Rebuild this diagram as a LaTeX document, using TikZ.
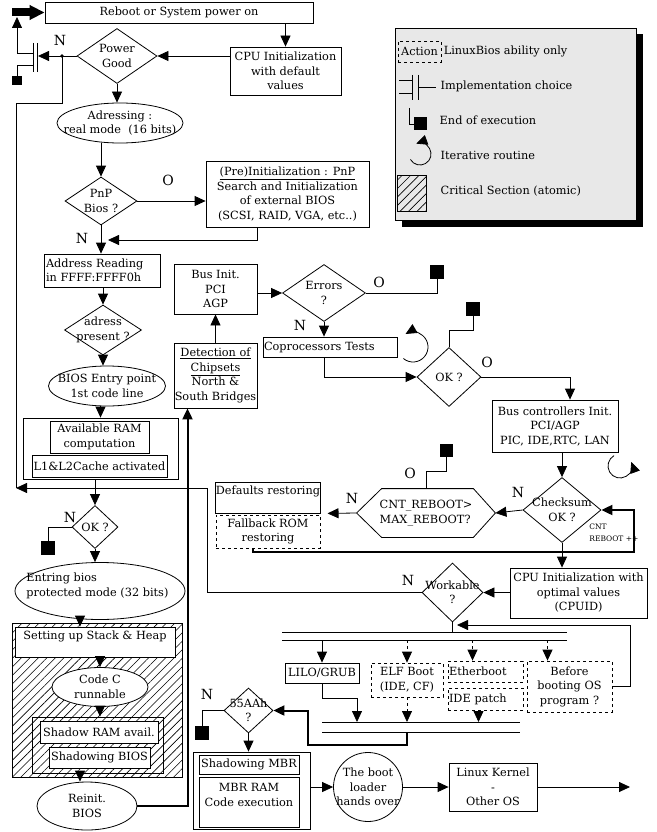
\documentclass[tikz,border=0pt]{standalone}
\usepackage{fontspec}
\setmainfont{DejaVu Serif}
\usetikzlibrary{arrows.meta,shapes.geometric,patterns.meta,calc}
\def\looparc[#1](#2)(#3:#4:#5){\draw[#1] ($(#2)+({#5*cos(#3)},{#5*sin(#3)})$) arc (#3:#4:#5);}
\newcommand{\mk}[1]{\makebox[0pt]{#1}}
\tikzset{
  box/.style={draw, inner sep=0.5pt, align=center},
  dbox/.style={box, dashed},
  dia/.style={draw, diamond, inner sep=0pt, align=center},
  ell/.style={draw, ellipse, inner sep=0pt, align=center},
  sz/.style 2 args={minimum width=#1, minimum height=#2},
  endsq/.style={fill=black, minimum size=14, inner sep=0pt},
  arr/.style={-{Triangle[length=11pt,width=10pt]}},
  tharr/.style={arr, line width=2pt},
  lab/.style={font=\fontsize{14}{14}\selectfont},
  cntlab/.style={font=\fontsize{7.5}{9}\selectfont, inner sep=0pt, anchor=west},
  hatched/.style={pattern={Lines[angle=45,distance=6pt,line width=0.6pt]}},
}
\begin{document}
\begin{tikzpicture}[x=1pt,y=-1pt,line width=0.8pt,font=\fontsize{11.3}{14.5}\selectfont]
\useasboundingbox (0,0) rectangle (656,832);
%%%%% START %%%%%
\coordinate (start) at (12,12.5);
\node[box,sz={268}{21}] (reboot) at (179,12.5) {Reboot or System power on};
\node[box,sz={111}{48}] (cpuone) at (285.5,71) {CPU Initialization\\with default\\values};
\node[dia,sz={80}{55}] (pgood) at (117,56) {\mk{Power}\\\mk{Good}};
\node[ell,sz={126}{40}] (real) at (120,123) {\mk{Adressing :}\\\mk{real mode\ \ (16 bits)}};
\node[dia,sz={72}{48}] (pnp) at (101,201) {\mk{PnP}\\\mk{Bios ?}};
\node[box,sz={163}{66}] (preinit) at (287.5,194) {\underline{(Pre)Initialization : PnP}\\Search and Initialization\\of external BIOS\\(SCSI, RAID, VGA, etc..)};
\coordinate (pnpin) at (108,240);
\node[box,sz={116}{33},text width=112,align=left] (addr) at (102,270.5) {Address Reading\\in FFFF:FFFF0h};
\node[dia,sz={77}{50}] (adr) at (103,330) {\mk{adress}\\\mk{present ?}};
\node[ell,sz={117}{40}] (entry) at (107,386) {\mk{BIOS Entry point}\\\mk{1st code line}};
\node[box,sz={155}{61}] (ram) at (100.5,448.5) {};
\node[box,sz={99}{32}] (ramc) at (99.5,437) {Available RAM\\computation};
\node[box,sz={135}{22}] (cache) at (99.5,466) {L1\&L2Cache activated};
\node[dia,sz={46}{43}] (okone) at (95,527) {\mk{OK ?}};
\node[endsq] (endone) at (48,548) {};
\node[ell,sz={170}{57}] (pmode) at (100,591) {};
\node[align=left,anchor=west,inner sep=0pt] (pmtxt) at (26,586) {Entring bios\\protected mode (32 bits)};
% critical section
\node[draw,sz={170}{154},hatched] (hatch) at (97,700) {};
\node[box,sz={160}{30},fill=white] (stack) at (95,642) {Setting up Stack \& Heap\\~};
\node[ell,sz={96}{39},fill=white] (codec) at (100,687) {\mk{Code C}\\\mk{runnable}};
\node[box,sz={131}{56}] (shadow) at (97.5,745) {};
\node[box,sz={118}{22},fill=white] (shram) at (99,732) {Shadow RAM avail.};
\node[box,sz={101}{21},fill=white] (shbios) at (99.5,757.5) {Shadowing BIOS};
\node[ell,sz={100}{48}] (reinit) at (87,806) {\mk{Reinit.}\\\mk{BIOS}};
% middle
\node[box,sz={83}{65}] (detect) at (215.5,375.5) {\underline{Detection of}\\\underline{Chipsets}\\North \&\\South Bridges};
\node[box,sz={83}{50}] (businit) at (215.5,289) {Bus Init.\\PCI\\AGP};
\node[dia,sz={83}{57}] (errors) at (324,293) {\mk{Errors}\\\mk{?}};
\node[endsq] (enderr) at (437,272) {};
\node[box,sz={134}{20},text width=132,align=left] (copro) at (330,347) {Coprocessors Tests};
\node[dia,sz={64}{59}] (oktwo) at (449,377) {\mk{OK ?}};
\node[endsq] (endok) at (473,309) {};
\node[box,sz={126}{52}] (busctl) at (555,426) {Bus controllers Init.\\PCI/AGP\\PIC, IDE,RTC, LAN};
\node[dia,sz={78}{65}] (chk) at (562,510) {\mk{Checksum}\\\mk{OK ?}};
\node[sz={138}{48},align=left] (cnt) at (426,513) {CNT\_REBOOT>\\MAX\_REBOOT?};
\draw ([xshift=25]cnt.north west) -- ([xshift=-22]cnt.north east) -- (cnt.east)
  -- ([xshift=-22]cnt.south east) -- ([xshift=25]cnt.south west) -- (cnt.west) -- cycle;
\node[endsq,minimum size=13] (endcnt) at (446,450) {};
\node[box,sz={104}{31},inner sep=0pt] (defaults) at (268,497.5) {Defaults restoring\\~};
\node[dbox,sz={104}{33}] (fallback) at (268,531.5) {Fallback ROM\\restoring};
\coordinate (cntc) at (634,552);
\node[box,sz={137}{50}] (cputwo) at (578.5,593) {CPU Initialization with\\optimal values\\(CPUID)};
\node[dia,sz={61}{59}] (work) at (452.5,592.5) {\mk{Workable}\\\mk{?}};
% boot loaders
\coordinate (busa) at (282,632);
\coordinate (busb) at (282,640);
\coordinate (busc) at (322,722);
\coordinate (busd) at (322,732);
\coordinate (workin) at (457,625);
\node[box,sz={74}{20}] (lilo) at (322,673) {LILO/GRUB};
\node[dbox,sz={72}{34}] (elf) at (407,680) {ELF Boot\\(IDE, CF)};
\node[dbox,sz={75}{21},text width=73,align=left] (ether) at (485.5,671.5) {Etherboot};
\node[dbox,sz={75}{22},text width=73,align=left] (idep) at (485.5,699) {IDE patch};
\node[dbox,sz={85}{51}] (before) at (569.5,686.5) {Before\\booting OS\\program ?};
\node[dia,sz={49}{45}] (aa) at (248.5,710.5) {\mk{55AAh}\\\mk{?}};
\node[endsq] (endaa) at (202,733) {};
\coordinate (aaturn) at (308,745);
\node[box,sz={117}{77}] (mbr) at (251.5,790.5) {};
\node[box,sz={100}{19}] (shmbr) at (249,764.5) {Shadowing MBR};
\node[box,sz={100}{50}] (mbrram) at (249,802) {MBR RAM\\Code execution\\~};
\node[draw,circle,minimum size=69,inner sep=0pt,align=center] (bootl) at (368,787) {\mk{The boot}\\\mk{loader}\\\mk{hands over}};
\node[box,sz={88}{48}] (linux) at (493,787) {Linux Kernel\\-\\Other OS};
\coordinate (osend) at (630,787);

%%%%% connectors %%%%%
\draw[-{Triangle[length=15pt,width=14pt]},line width=8pt] (start) -- (reboot.west);
\draw[arr] (reboot.south -| cpuone) -- (cpuone.north);
\draw[arr] (cpuone.west |- pgood.east) -- (pgood.east);
% implementation choice after Power Good
\coordinate (impl) at (38,56);
\coordinate (pgdot) at (62,56);
\draw[arr] (pgood.west) -- (impl);
\draw (33,43) -- (33,72);
\draw (37,43) -- (37,72);
\draw[arr] (33,53) -- (17,53) -- (17,17);
\draw (33,65) -| (17,78);
\fill (12,76) rectangle (22,85);
\fill (pgdot) circle (1.8);
\draw[arr] (pgood.south) -- (pgood.south |- real.north);
\draw[arr] (pnp.north |- real.south) -- (pnp.north);
\draw[arr] (pnp.east) -- (preinit.west |- pnp.east);
\draw[arr] ([xshift=-30]preinit.south) |- (pnpin);
\draw[arr] (pnp.south) -- (pnp.south |- addr.north);
\draw[arr] (adr.north |- addr.south) -- (adr.north);
\draw[arr] (adr.south) -- (adr.south |- entry.north);
\draw[arr] (ram.north |- entry.south) -- (ram.north);
\draw[arr] (ram.south -| okone) -- (okone.north);
\draw (okone.west) -| (endone.north);
\draw[arr] (okone.south) -- (okone.south |- pmode.north);
\draw[arr] ([xshift=-20]pmode.south) -- ([xshift=-20]pmode.south |- stack.north);
\draw[arr] (stack.south -| codec) -- (codec.north);
\draw[arr] (codec.south) -- (codec.south |- shadow.north);
\draw[arr] ([xshift=-17]hatch.south) -- ([xshift=-17]hatch.south |- reinit.north);
\draw[tharr] (reinit.east) -| ([xshift=-28]detect.south);
\draw[arr] (detect.north) -- (businit.south);
\draw[arr] (businit.east |- errors.west) -- (errors.west);
\draw (errors.east) -| (enderr.south);
\draw[arr] (errors.south) -- (errors.south |- copro.north);
\looparc[arr](413,347)(-230:-480:15)
\draw[arr] ([xshift=-6]copro.south) |- (oktwo.west);
\draw (oktwo.north) -- ++(0,-17) -| (endok.south);
\draw[arr] (oktwo.east) -| ([xshift=15]busctl.north);
\looparc[arr](620,466)(-120:-380:12)
\draw[arr] (chk.north |- busctl.south) -- (chk.north);
\draw[arr] (chk.west) -- (cnt.east);
\draw (cnt.north) -- ++(0,-17) -| (endcnt.south);
\draw[arr] (cnt.west) -- ([xshift=7]defaults.south east);
\draw[tharr] ([xshift=-15]fallback.south) |- (cntc) |- (chk.east);
\draw[arr] (chk.south) -- (chk.south |- cputwo.north);
\draw[arr] (cputwo.west |- work.east) -- (work.east);
\draw[arr] (work.west) -| (207,488) -- (16,488);
\draw (16,488) |- (62,103) -- (pgdot);
\draw (work.south) -- (work.south |- busa);
\draw[arr] (before.east) -- ++(18,0) |- (workin);
\draw (busa) -- ++(285,0);
\draw (busb) -- ++(285,0);
\draw[arr] (lilo.north |- busb) -- (lilo.north);
\draw[arr,dashed] (elf.north |- busb) -- (elf.north);
\draw[arr,dashed] ([xshift=-13]ether.north |- busb) -- ([xshift=-13]ether.north);
\draw[arr,dashed] ([xshift=-22]before.north |- busb) -- ([xshift=-22]before.north);
\draw (busc) -- ++(198,0);
\draw (busd) -- ++(198,0);
\draw[arr] (lilo.south) -- ++(0,15) -| (357,722);
\draw[arr,dashed] (elf.south) -- (elf.south |- busc);
\draw[arr] ([xshift=-7]idep.south) -- ([xshift=-7]idep.south |- busc);
\draw[tharr] (elf.south |- busd) |- (aaturn) |- (aa.east);
\draw (aa.west) -| (endaa.north);
\draw[arr] (aa.south) -- (aa.south |- mbr.north);
\draw[arr] (mbr.east |- bootl.west) -- (bootl.west);
\draw[arr] (bootl.east) -- (linux.west);
\draw[arr] (linux.east) -- (osend);

%%%%% labels %%%%%
\node[lab] (ln1) at (60,40) {N};
\node[lab] (lo1) at (168,180) {O};
\node[lab] (ln2) at (82,238) {N};
\node[lab] (ln3) at (70,517) {N};
\node[lab] (lo2) at (379,282) {O};
\node[lab] (ln4) at (300,325) {N};
\node[lab] (lo3) at (487,362) {O};
\node[lab] (ln5) at (518,492) {N};
\node[lab] (lo4) at (410,473) {O};
\node[lab] (ln6) at (352,498) {N};
\node[lab] (ln7) at (408,580) {N};
\node[lab] (ln8) at (207,694) {N};
\node[cntlab] (cnta) at (589,527) {CNT};
\node[cntlab] (cntb) at (589,539) {REBOOT ++};

%%%%% legend %%%%%
\fill (402,34) rectangle (643,227);
\node[draw,fill=gray!18,sz={241}{192}] (legend) at (515.5,124) {};
\node[dbox,sz={43}{21}] (act) at (419.5,51.5) {Action};
\node[anchor=west,inner sep=2pt] (actt) at (act.east) {LinuxBios ability only};
\draw (399,80) -- (412,80);
\draw (399,93) -- (412,93);
\draw (412,75) -- (412,100);
\draw (418,75) -- (418,100);
\draw (418,87) -- (436,87);
\node[anchor=west] (implt) at (437,86) {Implementation choice};
\draw (409,108) |- (414,124);
\node[endsq,minimum size=13] (lend) at (420.5,124) {};
\node[anchor=west] (lendt) at (436,120) {End of execution};
\looparc[arr](420,154)(-210:-470:11)
\node[anchor=west] (litt) at (437,155) {Iterative routine};
\node[draw,sz={29}{36},hatched] (lhatch) at (411.5,193) {};
\node[anchor=west] (lhatcht) at (437,191) {Critical Section (atomic)};
%%%%% END %%%%%
\end{tikzpicture}
\end{document}
